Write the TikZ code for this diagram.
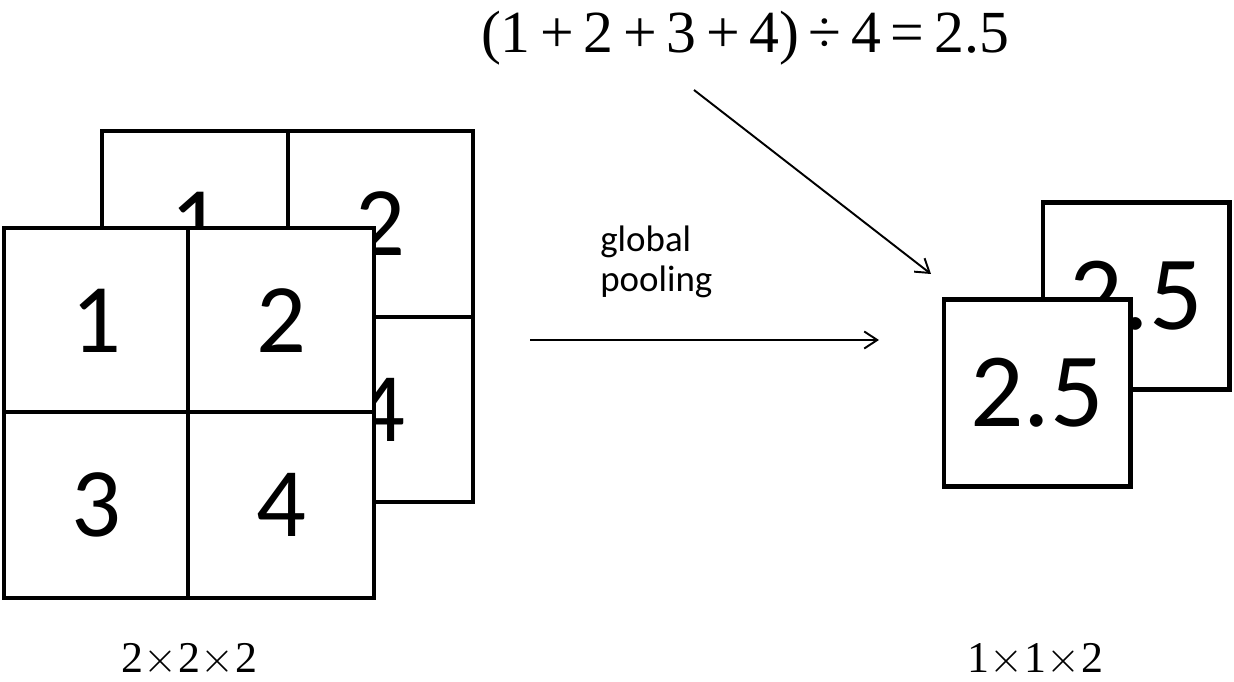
\documentclass[tikz,border=0pt]{standalone}
\usepackage{fontspec}
\setmainfont{Carlito}
\newfontfamily\timesf{Liberation Serif}
\usetikzlibrary{arrows.meta}
\newcommand{\opsp}{\hspace{5.5pt}}
\newcommand{\tms}{\hspace{0.3pt}$\times$\hspace{0.3pt}}
\begin{document}
\begin{tikzpicture}[x=0.02cm,y=-0.02cm,
  cell/.style={draw=black,line width=2.3pt,fill=white,minimum size=3.71cm,inner sep=0pt,
    font=\fontsize{56}{60}\selectfont},
  bigcell/.style={draw=black,line width=2.3pt,fill=white,minimum size=3.74cm,inner sep=0pt,
    font=\fontsize{60}{64}\selectfont},
  arr/.style={line width=1.1pt,-{Straight Barb[length=2.6mm,width=3.4mm,line width=1.1pt]}},
  serif/.style={font=\timesf\fontsize{#1}{#1}\selectfont,inner sep=0pt}
]
\useasboundingbox (0,0) rectangle (1234,682);
% back grid
\node[cell] (b11) at (195,224) {1};
\node[cell] (b12) at (380.5,224) {2};
\node[cell] (b21) at (195,409.5) {3};
\node[cell] (b22) at (380.5,409.5) {4};
% front grid
\node[cell] (f11) at (96.5,320.5) {1};
\node[cell] (f12) at (281,320.5) {2};
\node[cell] (f21) at (96.5,505) {3};
\node[cell] (f22) at (281,505) {4};
% right boxes
\node[bigcell] (r2) at (1136,296) {2.5};
\node[bigcell] (r1) at (1037,393) {2.5};
% formula
\node[serif=34pt] (formula) at (745,38) {(1\opsp+\opsp2\opsp+\opsp3\opsp+\opsp4)\opsp÷\opsp4\opsp=\opsp2.5};
% label
\node[anchor=west,align=left,inner sep=0pt,font=\fontsize{21}{22.7}\selectfont] (lbl) at (600,262) {global\\pooling};
% dims
\node[serif=25pt] (d1) at (189,660) {2\tms2\tms2};
\node[serif=25pt] (d2) at (1035,660) {1\tms1\tms2};
% arrows
\coordinate (hs) at (530,340);
\coordinate (he) at (879,340);
\coordinate (ds) at (694,90);
\coordinate (de) at (931,274);
\draw[arr] (hs) -- (he);
\draw[arr] (ds) -- (de);
\end{tikzpicture}
\end{document}
